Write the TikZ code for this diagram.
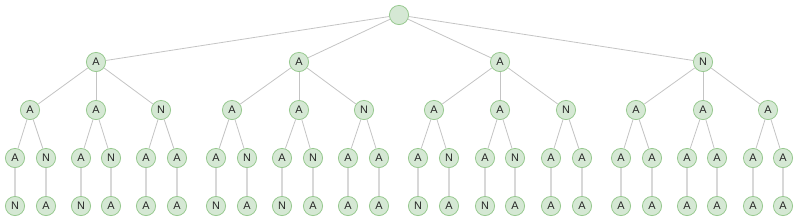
\documentclass[tikz,border=0pt]{standalone}
\usepackage{fontspec}
\setmainfont{Liberation Sans}
\definecolor{leaffill}{HTML}{D5E8D4}
\definecolor{leafline}{HTML}{97C98F}
\definecolor{edgegray}{HTML}{C4C4C4}
\definecolor{stemgray}{HTML}{D8D8D8}
\tikzset{
  vert/.style={circle,draw=leafline,fill=leaffill,line width=.6pt,minimum size=14.4pt,inner sep=0pt,
    font=\fontsize{8.2}{9}\selectfont,text=black!85},
  edge/.style={draw=edgegray,line width=.6pt},
  stem/.style={draw=stemgray,line width=1.4pt}
}
\begin{document}
\begin{tikzpicture}[x=.75pt,y=-.75pt]
  \useasboundingbox (0,0) rectangle (800,219);
  \node[vert] (r) at (399,15) {};
  % first level
  \foreach \n/\x/\t in {a/96/A,b/299/A,c/500/A,d/703/N}{
    \node[vert] (\n) at (\x,62) {\t}; \draw[edge] (r)--(\n);
  }
  % second level
  \foreach \n/\x/\t/\u in {a1/30/A/a,a2/96/A/a,a3/161/N/a,b1/232/A/b,b2/299/A/b,b3/364/N/b,
      c1/434/A/c,c2/500/A/c,c3/566/N/c,d1/636/A/d,d2/703/A/d,d3/768/A/d}{
    \node[vert] (\n) at (\x,110) {\t}; \draw[edge] (\u)--(\n);
  }
  % third and fourth level
  \foreach \n/\x/\t/\s/\u in {a1l/15/A/N/a1,a1r/46/N/A/a1,a2l/81/A/N/a2,a2r/111/N/A/a2,a3l/146/A/A/a3,a3r/177/A/A/a3,
      b1l/216/A/N/b1,b1r/247/N/A/b1,b2l/282/A/N/b2,b2r/313/N/A/b2,b3l/348/A/A/b3,b3r/379/A/A/b3,
      c1l/418/A/N/c1,c1r/449/N/A/c1,c2l/485/A/N/c2,c2r/515/N/A/c2,c3l/551/A/A/c3,c3r/582/A/A/c3,
      d1l/621/A/A/d1,d1r/652/A/A/d1,d2l/687/A/A/d2,d2r/717/A/A/d2,d3l/753/A/A/d3,d3r/783/A/A/d3}{
    \node[vert] (\n) at (\x,158) {\t}; \draw[edge] (\u)--(\n);
    \node[vert] (\n e) at (\x,206) {\s}; \draw[stem] (\n)--(\n e);
  }
\end{tikzpicture}
\end{document}
